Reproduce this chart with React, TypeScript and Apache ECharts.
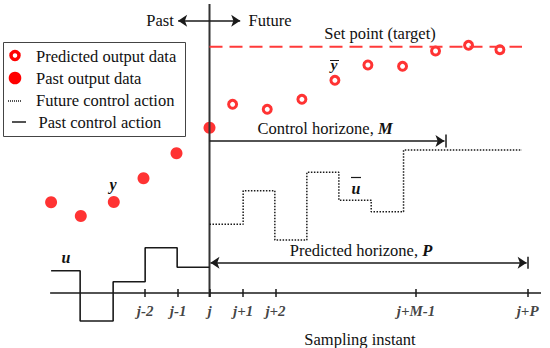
import React, { useEffect, useRef } from "react";
import * as echarts from "echarts";

// Past measured outputs (filled) and predicted outputs (hollow)
const pastX = [-4.8, -3.9, -2.9, -2, -1, 0];
const pastY = [9.07, 7.7, 9.1, 11.47, 13.97, 16.53];
const predX = [0.7, 1.75, 2.8, 3.8, 4.8, 5.85, 6.85, 7.85, 8.8];
const predY = [18.87, 18.37, 19.37, 21.27, 22.8, 22.67, 24.2, 24.77, 24.33];
const setPoint = 24.63;
const setPointRange = [0, 9.47];
// Control actions (step levels starting at each x)
const pastUX = [-4.8, -3.92, -2.92, -1.95, -0.98, 0];
const pastU = [2.23, -2.8, 1.13, 4.53, 2.57, 2.57];
const futUX = [0, 1.02, 1.98, 2.95, 3.92, 4.9, 5.88, 9.47];
const futU = [6.87, 10.23, 5.3, 12.07, 9.27, 8.13, 14.3, 14.3];
// Time axis ticks
const tickX = [-1.95, -0.95, 0, 1.02, 2, 6.26, 9.64];
const tickLabels = ["j-2", "j-1", "j", "j+1", "j+2", "j+M-1", "j+P"];
const axisRange = [-4.83, 10.17];
const controlHorizonEnd = 7.12;
const predictionHorizonEnd = 9.64;
const controlHorizonLevel = 15.2;
const predictionHorizonLevel = 3.03;
const pastFutureLevel = 27.23;
const nowLineRange = [-0.4, 28.9];

const SERIF = "Liberation Serif";
const INK = "#1a1a1a";
const RED = "#ff0000";

export default function App() {
  const ref = useRef<HTMLDivElement>(null);
  useEffect(() => {
    document.body.style.margin = "0";
    const chart = echarts.init(ref.current!, undefined, { renderer: "svg" });
    const seg = (x1: number, y1: number, x2: number, y2: number, sym: string[], style: any = {}) => [
      { coord: [x1, y1], symbol: sym[0], lineStyle: { color: INK, width: 1.5, type: "solid", ...style } },
      { coord: [x2, y2], symbol: sym[1] },
    ];
    const markSegs: any[] = [
      seg(0, pastFutureLevel, -0.95, pastFutureLevel, ["none", "arrow"]),
      seg(0, pastFutureLevel, 0.93, pastFutureLevel, ["none", "arrow"]),
      seg(0, controlHorizonLevel, controlHorizonEnd, controlHorizonLevel, ["none", "arrow"]),
      seg(controlHorizonEnd + 0.03, controlHorizonLevel - 0.65, controlHorizonEnd + 0.03, controlHorizonLevel + 0.65, ["none", "none"]),
      seg(0.03, predictionHorizonLevel, predictionHorizonEnd - 0.03, predictionHorizonLevel, ["arrow", "arrow"]),
      seg(predictionHorizonEnd, predictionHorizonLevel - 0.6, predictionHorizonEnd, predictionHorizonLevel + 0.6, ["none", "none"]),
      ...tickX.map((x) => seg(x, -0.4, x, 0.4, ["none", "none"])),
    ];
    const text = (x: number, y: number, t: string, extra: any = {}) => ({
      type: "text",
      x,
      y,
      style: {
        text: t,
        fontSize: 16.5,
        fontFamily: SERIF,
        fill: "#111",
        align: "center",
        verticalAlign: "middle",
        ...extra,
      },
    });
    const bi = { fontStyle: "italic", fontWeight: "bold", fontSize: 16.5, fontFamily: SERIF, fill: "#111" };
    const biStyle = { fontStyle: "italic", fontWeight: "bold", fontSize: 16 };
    chart.setOption({
      animation: false,
      grid: { left: 44.5, right: 10.5, top: 3, bottom: 0 },
      xAxis: { type: "value", min: -5, max: 10, show: false },
      yAxis: { type: "value", min: -5.5, max: 29, show: false },
      series: [
        {
          name: "axis",
          type: "line",
          data: [[axisRange[0], 0], [axisRange[1], 0]],
          symbol: "none",
          lineStyle: { color: INK, width: 1.5 },
          markLine: {
            silent: true,
            symbolSize: 9,
            label: { show: false },
            data: markSegs,
          },
        },
        {
          name: "now",
          type: "line",
          data: [[0, nowLineRange[0]], [0, nowLineRange[1]]],
          symbol: "none",
          lineStyle: { color: "#333", width: 2 },
        },
        {
          name: "Set point",
          type: "line",
          data: [[setPointRange[0], setPoint], [setPointRange[1], setPoint]],
          symbol: "none",
          lineStyle: { color: "#ff3a3a", width: 2, type: [13, 7] },
        },
        {
          name: "Past control action",
          type: "line",
          step: "end",
          data: pastUX.map((x, i) => [x, pastU[i]]),
          symbol: "none",
          lineStyle: { color: INK, width: 1.6 },
        },
        {
          name: "Future control action",
          type: "line",
          step: "end",
          data: futUX.map((x, i) => [x, futU[i]]),
          symbol: "none",
          lineStyle: { color: INK, width: 1.5, type: [1.5, 1.5] },
        },
        {
          name: "Past output data",
          type: "scatter",
          data: pastX.map((x, i) => [x, pastY[i]]),
          symbol: "circle",
          symbolSize: 12,
          itemStyle: { color: RED },
        },
        {
          name: "Predicted output data",
          type: "scatter",
          data: predX.map((x, i) => [x, predY[i]]),
          symbol: "circle",
          symbolSize: 8,
          itemStyle: { color: "#fff", borderColor: RED, borderWidth: 3 },
        },
        {
          name: "tick labels",
          type: "scatter",
          data: tickX.map((x, i) => ({ value: [x, -1.8], name: tickLabels[i] })),
          symbolSize: 0,
          label: {
            show: true,
            position: "inside",
            formatter: (p: any) => p.name,
            fontStyle: "italic",
            fontWeight: "bold",
            fontSize: 15,
            fontFamily: SERIF,
            color: "#111",
          },
        },
      ],
      graphic: [
        // legend box
        { type: "rect", shape: { x: 3.5, y: 42.5, width: 182, height: 94 }, style: { fill: "#fff", stroke: "#444", lineWidth: 1 } },
        { type: "circle", shape: { cx: 15, cy: 55.5, r: 4 }, style: { fill: "#fff", stroke: RED, lineWidth: 3.5 } },
        { type: "circle", shape: { cx: 15, cy: 78, r: 6.3 }, style: { fill: RED } },
        { type: "line", shape: { x1: 8, y1: 101, x2: 22, y2: 101 }, style: { stroke: INK, lineWidth: 1.5, lineDash: [1, 1] } },
        { type: "line", shape: { x1: 12, y1: 122, x2: 26, y2: 122 }, style: { stroke: INK, lineWidth: 1.5 } },
        text(36, 56, "Predicted output data", { align: "left" }),
        text(36, 78, "Past output data", { align: "left" }),
        text(36, 100, "Future control action", { align: "left" }),
        text(38.5, 122, "Past control action", { align: "left" }),
        // annotations
        text(160, 20, "Past"),
        text(270, 20, "Future"),
        text(380, 33, "Set point (target)"),
        text(325, 128, "Control horizone, {m|M}", { rich: { m: bi } }),
        text(361, 250, "Predicted horizone, {m|P}", { rich: { m: bi } }),
        text(360, 339, "Sampling instant"),
        text(113, 184, "y", biStyle),
        text(66, 257, "u", biStyle),
        text(334, 65, "y", { ...biStyle, fontSize: 15 }),
        { type: "line", shape: { x1: 330, y1: 60.5, x2: 339, y2: 60.5 }, style: { stroke: INK, lineWidth: 1 } },
        text(356, 188, "u", biStyle),
        { type: "line", shape: { x1: 351, y1: 177.5, x2: 361, y2: 177.5 }, style: { stroke: INK, lineWidth: 1.2 } },
      ],
    });
    return () => chart.dispose();
  }, []);
  return <div ref={ref} style={{ width: 550, height: 348 }} />;
}
